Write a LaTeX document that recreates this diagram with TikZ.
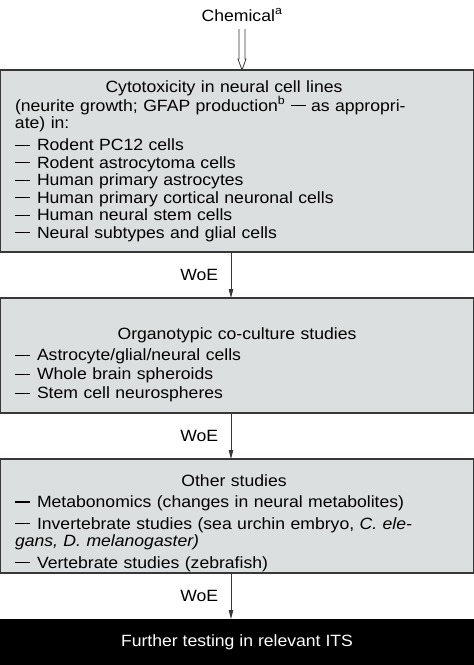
\documentclass[tikz,border=0pt]{standalone}
\usepackage{fontspec}
\setmainfont{Liberation Sans}[FakeStretch=1.08]
\usetikzlibrary{positioning,arrows.meta}
\definecolor{boxgray}{RGB}{220,223,224}
\definecolor{edgegray}{RGB}{55,55,55}
% short dash and list line with hanging dash
\newcommand{\dsh}{\rule[0.3em]{15pt}{1.2pt}}
\newcommand{\itm}[1]{\par\noindent\hangindent=22pt\hangafter=1\makebox[22pt][l]{\dsh}#1}
\begin{document}
\begin{tikzpicture}[
    font=\fontsize{16.3}{17.5}\selectfont,
    box/.style={draw=edgegray, line width=1.1pt, fill=boxgray, minimum width=474pt,
      inner xsep=15pt, text width=444pt, align=left, outer sep=0pt},
    link/.style={-{Triangle[length=9pt,width=4.5pt]}, line width=0.9pt, edgegray},
  ]
  \useasboundingbox (0,0) rectangle (474pt,-665pt);

  % Input
  \node[anchor=base] (chem) at (242pt,-21pt) {Chemical\textsuperscript{a}};

  % Boxes
  \node[box, anchor=north, minimum height=182pt] (cyto) at (237pt,-70pt) {%
    \makebox[418pt]{Cytotoxicity in neural cell lines}\\
    (neurite growth; GFAP production\textsuperscript{b} \dsh{} as appropri-\\ate) in:\par
    \vspace{4.5pt}
    \itm{Rodent PC12 cells}
    \itm{Rodent astrocytoma cells}
    \itm{Human primary astrocytes}
    \itm{Human primary cortical neuronal cells}
    \itm{Human neural stem cells}
    \itm{Neural subtypes and glial cells}};
  \node[box, below=46pt of cyto, minimum height=115pt, inner ysep=0pt] (organ) {%
    \setlength{\parskip}{1.5pt}%
    \vspace*{12pt}\par
    \makebox[444pt]{Organotypic co-culture studies}\par\vspace{2pt}
    \itm{Astrocyte/glial/neural cells}
    \itm{Whole brain spheroids}
    \itm{Stem cell neurospheres}};
  \node[box, below=46pt of organ, minimum height=114pt, inner ysep=0pt] (other) {%
    \setlength{\parskip}{4pt}%
    \vspace*{4pt}\par
    \makebox[438pt]{Other studies}
    \itm{Metabonomics (changes in neural metabolites)}
    \itm{Invertebrate studies (sea urchin embryo, \textit{C. ele-}\\\textit{gans, D. melanogaster)}}
    \itm{Vertebrate studies (zebrafish)}};
  \node[fill=black, text=white, minimum width=474pt, minimum height=46pt, outer sep=0pt,
    below=46pt of other] (further) {Further testing in relevant ITS};

  % Hollow arrow into the first box
  \coordinate (tip) at (chem.base |- cyto.north);
  \draw[line width=0.8pt, edgegray]
    ([xshift=-3pt,yshift=-8pt]chem.base) -- ([xshift=-3pt,yshift=11pt]tip)
    -- ([xshift=-4pt,yshift=11pt]tip) -- (tip) -- ([xshift=4pt,yshift=11pt]tip)
    -- ([xshift=3pt,yshift=11pt]tip) -- ([xshift=3pt,yshift=-8pt]chem.base);

  % WoE links
  \draw[link] ([xshift=-6pt]cyto.south) -- ([xshift=-6pt]organ.north)
    node[midway, left=9pt, black] {WoE};
  \draw[link] ([xshift=-6pt]organ.south) -- ([xshift=-6pt]other.north)
    node[midway, left=9pt, black] {WoE};
  \draw[link] ([xshift=-6pt]other.south) -- ([xshift=-6pt]further.north)
    node[midway, left=9pt, black] {WoE};
\end{tikzpicture}
\end{document}
